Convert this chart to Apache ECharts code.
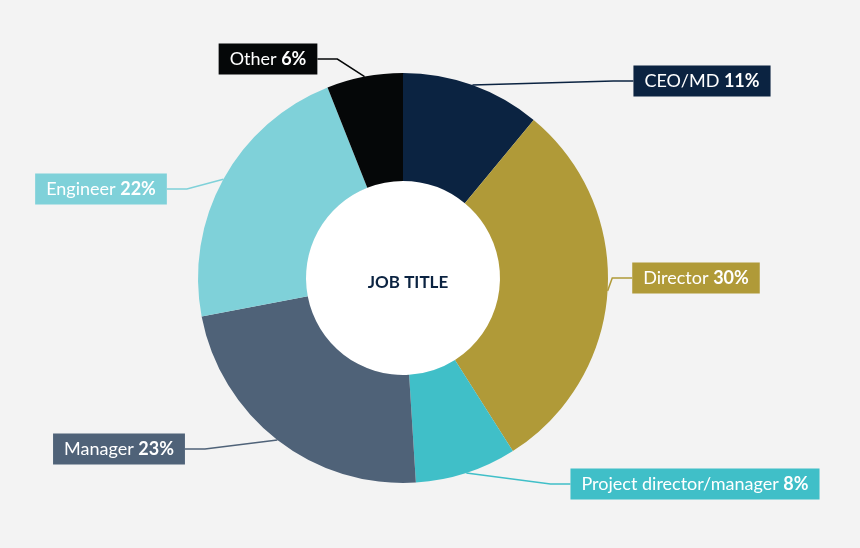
<!DOCTYPE html>
<html><head><meta charset="utf-8">
<script src="https://cdn.jsdelivr.net/npm/echarts@6/dist/echarts.min.js"></script>
<style>html,body{margin:0;background:#f3f3f3}#c{width:860px;height:548px}</style>
</head><body><div id="c"></div>
<script>
const names = ['CEO/MD', 'Director', 'Project director/manager', 'Manager', 'Engineer', 'Other'];
const values = [11, 30, 8, 23, 22, 6];
const colors = ['#0b2341', '#b09a38', '#40bfc8', '#4f6278', '#7fd1d9', '#050708'];
// label box centres
const labelPos = [[702, 81], [696, 278], [695, 484], [119, 449], [101, 189], [268, 59]];

const chart = echarts.init(document.getElementById('c'));
chart.setOption({
  backgroundColor: '#f3f3f3',
  title: {
    text: 'JOB TITLE', left: 403, top: 278, textAlign: 'center', textVerticalAlign: 'middle',
    textStyle: { fontFamily: 'Lato', fontWeight: 'bold', fontSize: 17, color: '#0b2341' }
  },
  series: [
    {
      type: 'pie', silent: true, center: [403, 278], radius: [0, 97],
      label: { show: false }, labelLine: { show: false },
      data: [{ value: 1, itemStyle: { color: '#ffffff' } }]
    },
    {
      type: 'pie', center: [403, 278], radius: [97, 205], startAngle: 90, clockwise: true,
      avoidLabelOverlap: false,
      data: names.map((n, i) => ({
        name: n, value: values[i],
        itemStyle: { color: colors[i] },
        label: { backgroundColor: colors[i] },
        labelLine: { lineStyle: { color: colors[i] } }
      })),
      label: {
        show: true, position: 'outside',
        formatter: p => p.name + ' {b|' + p.value + '%}',
        color: '#fff', fontFamily: 'Lato', fontSize: 18, padding: [7, 11, 6, 11],
        rich: { b: { fontWeight: 'bold', fontFamily: 'Lato', fontSize: 18, color: '#fff' } }
      },
      labelLine: { show: true, length: 20, length2: 20, lineStyle: { width: 1.5 } },
      labelLayout: p => ({ x: labelPos[p.dataIndex][0], y: labelPos[p.dataIndex][1], align: 'center', verticalAlign: 'middle' })
    }
  ]
});
</script></body></html>
